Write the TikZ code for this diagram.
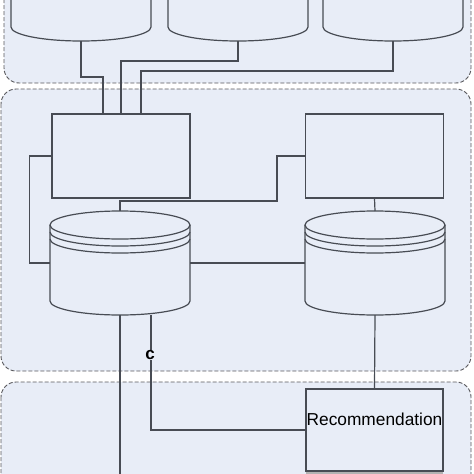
\documentclass[tikz,border=0pt]{standalone}
\usepackage{fontspec}
\setsansfont{Liberation Sans}
\usepackage{tikz}
\usetikzlibrary{shadows}

\definecolor{PanelBlue}{RGB}{232,237,247}
\definecolor{PanelEdge}{RGB}{88,88,92}
\definecolor{Ink}{RGB}{72,76,84}

\begin{document}
\begin{tikzpicture}[x=1pt, y=-1pt]
		\tikzstyle{Panel}	= [draw=PanelEdge, dash pattern=on 4pt off 2pt, fill=PanelBlue, rounded corners=15pt, line width=0.9pt]
		\tikzstyle{Box}		= [rectangle, draw=Ink, line width=1.2pt, minimum width=138pt, minimum height=84pt, inner sep=0pt]
		\tikzstyle{Store}	= [rectangle, minimum width=140pt, minimum height=104pt, inner sep=0pt, outer sep=0pt]
		\tikzstyle{Source}	= [rectangle, minimum width=140pt, minimum height=101pt, inner sep=0pt, outer sep=0pt]
		\tikzstyle{Wire}	= [draw=Ink, line width=1.2pt]
		\tikzstyle{Rim}		= [start angle=180, end angle=360, x radius=70pt, y radius=14pt]

		\useasboundingbox (0,0) rectangle (474,474);
		\clip (0,0) rectangle (474,474);

		% tiers
		\draw [Panel] (4,-40) rectangle (471,83);
		\draw [Panel] (1,89) rectangle (471,371);
		\draw [Panel] (1,382) rectangle (471,520);

		\node (src1) at (81,-9.5) [Source] {};
		\node (src2) at (238,-9.5) [Source] {};
		\node (src3) at (393,-9.5) [Source] {};

		\node (box1) at (121,156) [Box] {};
		\node (box2) at (374.5,156) [Box] {};

		\node (db1) at (120,263) [Store] {};
		\node (db2) at (375,263) [Store] {};

		\coordinate (exit) at (120,480);

		% cylinders
		\foreach \s in {src1, src2, src3} {
			\draw [Wire] (\s.north west) -- ([yshift=14pt]\s.south west) arc [Rim] -- (\s.north east);
		}
		\foreach \d in {db1, db2} {
			\draw [Wire] ([yshift=-14pt]\d.north west) -- ([yshift=14pt]\d.south west) arc [Rim] -- ([yshift=-14pt]\d.north east);
			\draw [Wire] ([yshift=-14pt]\d.north) ellipse [x radius=70pt, y radius=14pt];
			\draw [Wire] ([yshift=-21pt]\d.north west) arc [Rim];
			\draw [Wire] ([yshift=-28pt]\d.north west) arc [Rim];
		}

		\draw [-] (src1.south) -- ++(0,36) -| ([xshift=-18pt]box1.north) [Wire];
		\draw [-] (src2.south) -- ++(0,20) -| (box1.north) [Wire];
		\draw [-] (src3.south) -- ++(0,30) -| ([xshift=20pt]box1.north) [Wire];
		\draw [-] (box1.west) -- ++(-22,0) |- (db1.west) [Wire];
		\draw [-] (db1.north) -- ++(0,-10) -- ++(157,0) |- (box2.west) [Wire];
		\draw [-] (db1.east) -- (db2.west) [Wire];
		\draw [-] (box2.south) -- (db2.north) [Wire];
		\draw [-] (db1.south) -- (exit) [Wire];

		\node (rec) at (374.5,430) [rectangle, draw=Ink, line width=1.2pt, fill=PanelBlue, minimum width=137pt, inner xsep=0.5pt, inner ysep=0pt, text height=36pt, text depth=46pt, font=\sffamily\fontsize{17.3}{17}\selectfont, drop shadow={shadow xshift=0pt, shadow yshift=-3pt, fill=black!30, opacity=1}] {Recommendation};

		\draw [-] (db2.south) -- (rec.north) [Wire];
		\draw [-] ([xshift=31pt]db1.south) |- (rec.west) [Wire];

		\node (cue) at (150,355) [fill=PanelBlue, inner sep=0.5pt, font=\sffamily\bfseries\fontsize{17}{17}\selectfont] {c};
	\end{tikzpicture}
\end{document}
